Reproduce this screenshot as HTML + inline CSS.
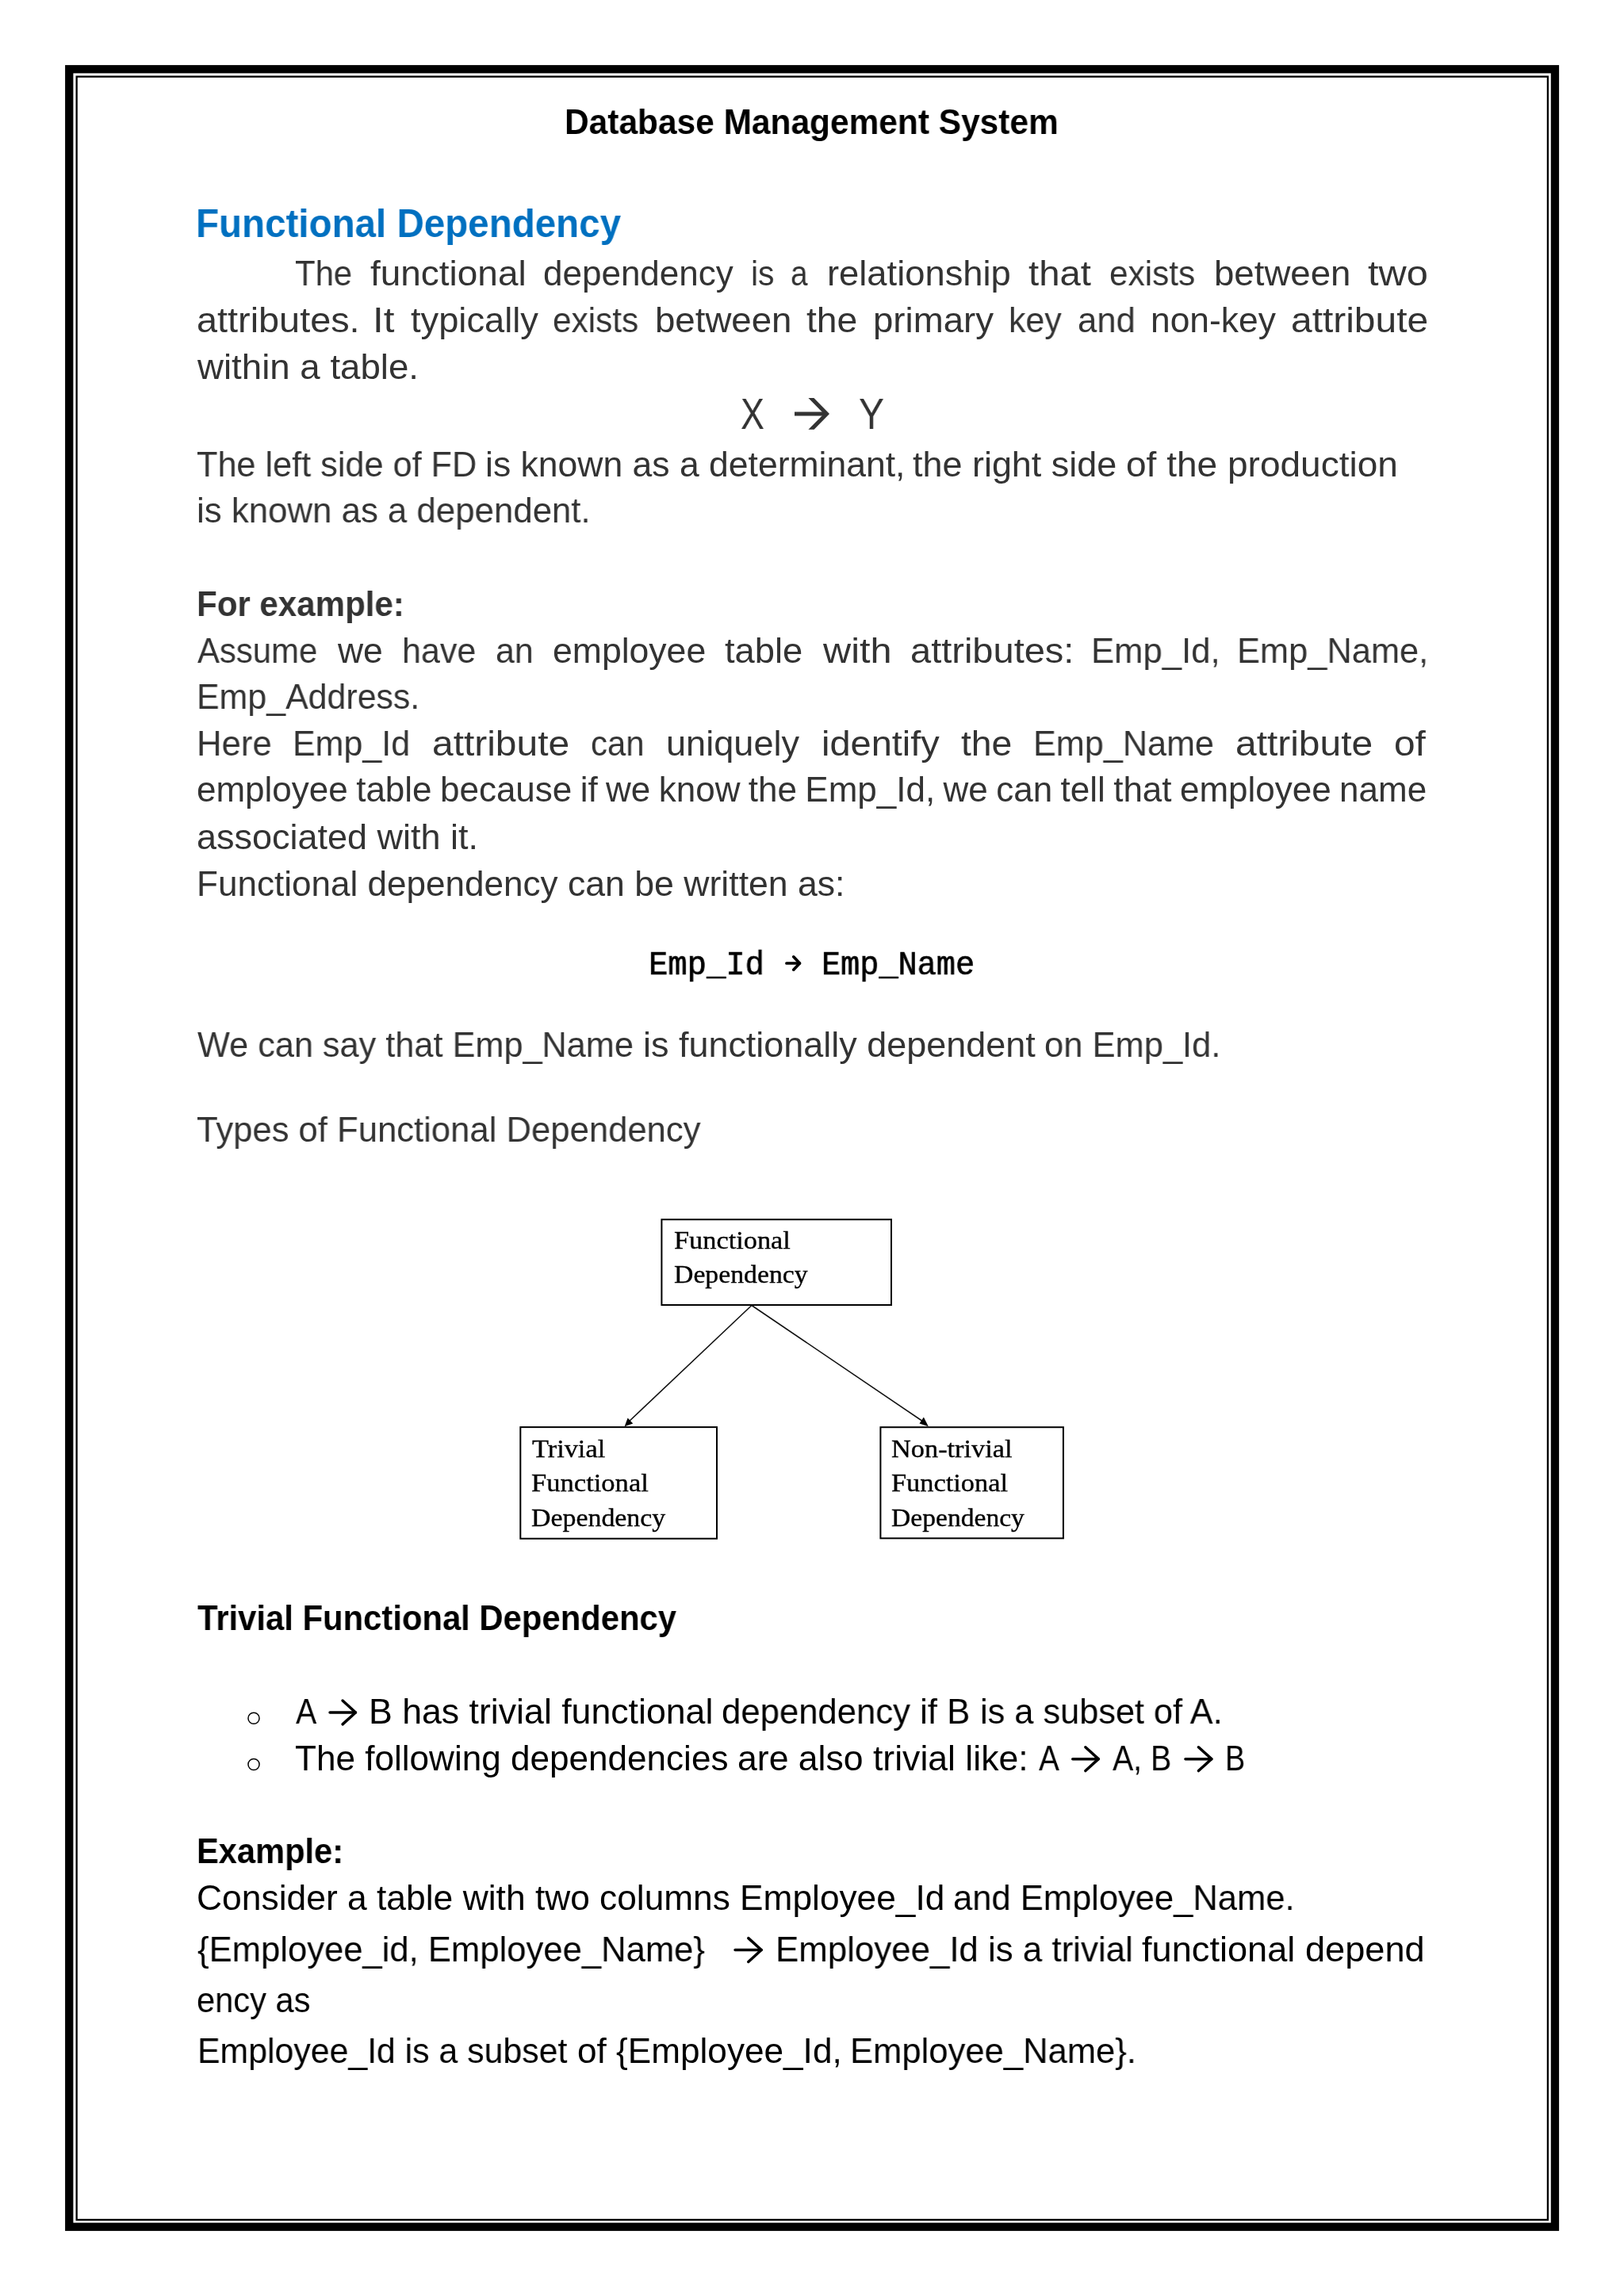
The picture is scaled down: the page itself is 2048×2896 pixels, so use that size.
<!DOCTYPE html>
<html><head><meta charset="utf-8"><style>
html,body{margin:0;padding:0;background:#fff;}
body{width:2048px;height:2896px;position:relative;overflow:hidden;}
.s{position:absolute;white-space:pre;transform-origin:0 0;margin:0;padding:0;will-change:transform;}
.j{position:absolute;display:flex;justify-content:space-between;white-space:pre;transform-origin:0 0;will-change:transform;}
.j span{display:block;}
.fr{position:absolute;box-sizing:border-box;}
</style></head><body>
<svg class="fr" style="left:0;top:0" width="2048" height="2896"><g fill="none" stroke="#000"><rect x="87.25" y="87.25" width="1873.7" height="2721.5" stroke-width="10.3"/><rect x="96.65" y="96.65" width="1855.25" height="2703.25" stroke-width="2.3"/></g></svg>
<div class="s" id="t1" style='left:712.00px;top:132.25px;font-family:"Liberation Sans", sans-serif;font-weight:700;font-size:44px;line-height:44px;color:#000000;transform:scaleX(0.9646);'>Database Management System</div>
<div class="s" id="h1" style='left:247.00px;top:257.17px;font-family:"Liberation Sans", sans-serif;font-weight:700;font-size:50px;line-height:50px;color:#0070c0;transform:scaleX(0.9505);'>Functional Dependency</div>
<div class="s" id="p1_w0" style='left:371.58px;top:322.75px;font-family:"Liberation Sans", sans-serif;font-weight:400;font-size:44px;line-height:44px;color:#333333;transform:scaleX(0.9510);'>The</div>
<div class="s" id="p1_w1" style='left:466.59px;top:322.75px;font-family:"Liberation Sans", sans-serif;font-weight:400;font-size:44px;line-height:44px;color:#333333;transform:scaleX(1.0441);'>functional</div>
<div class="s" id="p1_w2" style='left:685.20px;top:322.75px;font-family:"Liberation Sans", sans-serif;font-weight:400;font-size:44px;line-height:44px;color:#333333;transform:scaleX(0.9982);'>dependency</div>
<div class="s" id="p1_w3" style='left:946.65px;top:322.75px;font-family:"Liberation Sans", sans-serif;font-weight:400;font-size:44px;line-height:44px;color:#333333;transform:scaleX(0.9248);'>is</div>
<div class="s" id="p1_w4" style='left:997.08px;top:322.75px;font-family:"Liberation Sans", sans-serif;font-weight:400;font-size:44px;line-height:44px;color:#333333;transform:scaleX(0.8800);'>a</div>
<div class="s" id="p1_w5" style='left:1043.27px;top:322.75px;font-family:"Liberation Sans", sans-serif;font-weight:400;font-size:44px;line-height:44px;color:#333333;transform:scaleX(1.0301);'>relationship</div>
<div class="s" id="p1_w6" style='left:1297.07px;top:322.75px;font-family:"Liberation Sans", sans-serif;font-weight:400;font-size:44px;line-height:44px;color:#333333;transform:scaleX(1.0754);'>that</div>
<div class="s" id="p1_w7" style='left:1399.27px;top:322.75px;font-family:"Liberation Sans", sans-serif;font-weight:400;font-size:44px;line-height:44px;color:#333333;transform:scaleX(0.9614);'>exists</div>
<div class="s" id="p1_w8" style='left:1530.84px;top:322.75px;font-family:"Liberation Sans", sans-serif;font-weight:400;font-size:44px;line-height:44px;color:#333333;transform:scaleX(1.0369);'>between</div>
<div class="s" id="p1_w9" style='left:1724.66px;top:322.75px;font-family:"Liberation Sans", sans-serif;font-weight:400;font-size:44px;line-height:44px;color:#333333;transform:scaleX(1.1079);'>two</div>
<div class="s" id="p2_w0" style='left:248.14px;top:381.95px;font-family:"Liberation Sans", sans-serif;font-weight:400;font-size:44px;line-height:44px;color:#333333;transform:scaleX(1.0642);'>attributes.</div>
<div class="s" id="p2_w1" style='left:469.70px;top:381.95px;font-family:"Liberation Sans", sans-serif;font-weight:400;font-size:44px;line-height:44px;color:#333333;transform:scaleX(1.1200);'>It</div>
<div class="s" id="p2_w2" style='left:518.02px;top:381.95px;font-family:"Liberation Sans", sans-serif;font-weight:400;font-size:44px;line-height:44px;color:#333333;transform:scaleX(1.0284);'>typically</div>
<div class="s" id="p2_w3" style='left:696.68px;top:381.95px;font-family:"Liberation Sans", sans-serif;font-weight:400;font-size:44px;line-height:44px;color:#333333;transform:scaleX(0.9614);'>exists</div>
<div class="s" id="p2_w4" style='left:826.03px;top:381.95px;font-family:"Liberation Sans", sans-serif;font-weight:400;font-size:44px;line-height:44px;color:#333333;transform:scaleX(1.0369);'>between</div>
<div class="s" id="p2_w5" style='left:1016.64px;top:381.95px;font-family:"Liberation Sans", sans-serif;font-weight:400;font-size:44px;line-height:44px;color:#333333;transform:scaleX(1.0521);'>the</div>
<div class="s" id="p2_w6" style='left:1100.61px;top:381.95px;font-family:"Liberation Sans", sans-serif;font-weight:400;font-size:44px;line-height:44px;color:#333333;transform:scaleX(1.0364);'>primary</div>
<div class="s" id="p2_w7" style='left:1271.89px;top:381.95px;font-family:"Liberation Sans", sans-serif;font-weight:400;font-size:44px;line-height:44px;color:#333333;transform:scaleX(0.9735);'>key</div>
<div class="s" id="p2_w8" style='left:1358.58px;top:381.95px;font-family:"Liberation Sans", sans-serif;font-weight:400;font-size:44px;line-height:44px;color:#333333;transform:scaleX(0.9915);'>and</div>
<div class="s" id="p2_w9" style='left:1450.87px;top:381.95px;font-family:"Liberation Sans", sans-serif;font-weight:400;font-size:44px;line-height:44px;color:#333333;transform:scaleX(1.0083);'>non-key</div>
<div class="s" id="p2_w10" style='left:1627.84px;top:381.95px;font-family:"Liberation Sans", sans-serif;font-weight:400;font-size:44px;line-height:44px;color:#333333;transform:scaleX(1.0887);'>attribute</div>
<div class="s" id="p3" style='left:248.80px;top:441.05px;font-family:"Liberation Sans", sans-serif;font-weight:400;font-size:44px;line-height:44px;color:#333333;transform:scaleX(1.0370);'>within a table.</div>
<div class="s" id="xx" style='left:934.00px;top:495.23px;font-family:"Liberation Sans", sans-serif;font-weight:400;font-size:55px;line-height:55px;color:#333333;transform:scaleX(0.8138);'>X</div>
<div class="s" id="yy" style='left:1083.00px;top:495.23px;font-family:"Liberation Sans", sans-serif;font-weight:400;font-size:55px;line-height:55px;color:#333333;transform:scaleX(0.8719);'>Y</div>
<div class="s" id="p4_c0" style='left:247.80px;top:563.55px;font-family:"Liberation Sans", sans-serif;font-weight:400;font-size:44px;line-height:44px;color:#333333;transform:scaleX(0.9824);'>The left side of FD</div>
<div class="s" id="p4_c1" style='left:612.23px;top:563.55px;font-family:"Liberation Sans", sans-serif;font-weight:400;font-size:44px;line-height:44px;color:#333333;transform:scaleX(1.0115);'>is known as a determinant,</div>
<div class="s" id="p4_c2" style='left:1150.86px;top:563.55px;font-family:"Liberation Sans", sans-serif;font-weight:400;font-size:44px;line-height:44px;color:#333333;transform:scaleX(1.0211);'>the right side</div>
<div class="s" id="p4_c3" style='left:1420.39px;top:563.55px;font-family:"Liberation Sans", sans-serif;font-weight:400;font-size:44px;line-height:44px;color:#333333;transform:scaleX(1.0462);'>of the production</div>
<div class="s" id="p5" style='left:248.20px;top:622.15px;font-family:"Liberation Sans", sans-serif;font-weight:400;font-size:44px;line-height:44px;color:#333333;transform:scaleX(0.9952);'>is known as a dependent.</div>
<div class="s" id="fe" style='left:247.60px;top:739.65px;font-family:"Liberation Sans", sans-serif;font-weight:700;font-size:44px;line-height:44px;color:#333333;transform:scaleX(0.9559);'>For example:</div>
<div class="s" id="a1_w0" style='left:249.22px;top:798.55px;font-family:"Liberation Sans", sans-serif;font-weight:400;font-size:44px;line-height:44px;color:#333333;transform:scaleX(0.9517);'>Assume</div>
<div class="s" id="a1_w1" style='left:425.76px;top:798.55px;font-family:"Liberation Sans", sans-serif;font-weight:400;font-size:44px;line-height:44px;color:#333333;transform:scaleX(1.0102);'>we</div>
<div class="s" id="a1_w2" style='left:507.29px;top:798.55px;font-family:"Liberation Sans", sans-serif;font-weight:400;font-size:44px;line-height:44px;color:#333333;transform:scaleX(0.9770);'>have</div>
<div class="s" id="a1_w3" style='left:625.14px;top:798.55px;font-family:"Liberation Sans", sans-serif;font-weight:400;font-size:44px;line-height:44px;color:#333333;transform:scaleX(0.9733);'>an</div>
<div class="s" id="a1_w4" style='left:697.19px;top:798.55px;font-family:"Liberation Sans", sans-serif;font-weight:400;font-size:44px;line-height:44px;color:#333333;transform:scaleX(1.0125);'>employee</div>
<div class="s" id="a1_w5" style='left:913.78px;top:798.55px;font-family:"Liberation Sans", sans-serif;font-weight:400;font-size:44px;line-height:44px;color:#333333;transform:scaleX(1.0301);'>table</div>
<div class="s" id="a1_w6" style='left:1038.09px;top:798.55px;font-family:"Liberation Sans", sans-serif;font-weight:400;font-size:44px;line-height:44px;color:#333333;transform:scaleX(1.1063);'>with</div>
<div class="s" id="a1_w7" style='left:1147.94px;top:798.55px;font-family:"Liberation Sans", sans-serif;font-weight:400;font-size:44px;line-height:44px;color:#333333;transform:scaleX(1.0682);'>attributes:</div>
<div class="s" id="a1_w8" style='left:1375.91px;top:798.55px;font-family:"Liberation Sans", sans-serif;font-weight:400;font-size:44px;line-height:44px;color:#333333;transform:scaleX(0.9917);'>Emp_Id,</div>
<div class="s" id="a1_w9" style='left:1559.56px;top:798.55px;font-family:"Liberation Sans", sans-serif;font-weight:400;font-size:44px;line-height:44px;color:#333333;transform:scaleX(0.9864);'>Emp_Name,</div>
<div class="s" id="a2" style='left:247.90px;top:857.35px;font-family:"Liberation Sans", sans-serif;font-weight:400;font-size:44px;line-height:44px;color:#333333;transform:scaleX(0.9747);'>Emp_Address.</div>
<div class="s" id="a3_w0" style='left:248.02px;top:915.75px;font-family:"Liberation Sans", sans-serif;font-weight:400;font-size:44px;line-height:44px;color:#333333;transform:scaleX(0.9926);'>Here</div>
<div class="s" id="a3_w1" style='left:369.19px;top:915.75px;font-family:"Liberation Sans", sans-serif;font-weight:400;font-size:44px;line-height:44px;color:#333333;transform:scaleX(0.9762);'>Emp_Id</div>
<div class="s" id="a3_w2" style='left:544.62px;top:915.75px;font-family:"Liberation Sans", sans-serif;font-weight:400;font-size:44px;line-height:44px;color:#333333;transform:scaleX(1.0887);'>attribute</div>
<div class="s" id="a3_w3" style='left:745.41px;top:915.75px;font-family:"Liberation Sans", sans-serif;font-weight:400;font-size:44px;line-height:44px;color:#333333;transform:scaleX(0.9516);'>can</div>
<div class="s" id="a3_w4" style='left:840.27px;top:915.75px;font-family:"Liberation Sans", sans-serif;font-weight:400;font-size:44px;line-height:44px;color:#333333;transform:scaleX(1.0257);'>uniquely</div>
<div class="s" id="a3_w5" style='left:1035.83px;top:915.75px;font-family:"Liberation Sans", sans-serif;font-weight:400;font-size:44px;line-height:44px;color:#333333;transform:scaleX(1.0672);'>identify</div>
<div class="s" id="a3_w6" style='left:1211.60px;top:915.75px;font-family:"Liberation Sans", sans-serif;font-weight:400;font-size:44px;line-height:44px;color:#333333;transform:scaleX(1.0521);'>the</div>
<div class="s" id="a3_w7" style='left:1303.49px;top:915.75px;font-family:"Liberation Sans", sans-serif;font-weight:400;font-size:44px;line-height:44px;color:#333333;transform:scaleX(0.9813);'>Emp_Name</div>
<div class="s" id="a3_w8" style='left:1558.29px;top:915.75px;font-family:"Liberation Sans", sans-serif;font-weight:400;font-size:44px;line-height:44px;color:#333333;transform:scaleX(1.0887);'>attribute</div>
<div class="s" id="a3_w9" style='left:1758.40px;top:915.75px;font-family:"Liberation Sans", sans-serif;font-weight:400;font-size:44px;line-height:44px;color:#333333;transform:scaleX(1.0861);'>of</div>
<div class="j" id="a4" style='left:248.00px;top:974.35px;font-family:"Liberation Sans", sans-serif;font-weight:400;font-size:44px;line-height:44px;color:#333333;transform:scaleX(1.0000); width:1551.30px;'><span>employee</span><span>table</span><span>because</span><span>if</span><span>we</span><span>know</span><span>the</span><span>Emp_Id,</span><span>we</span><span>can</span><span>tell</span><span>that</span><span>employee</span><span>name</span></div>
<div class="s" id="a5" style='left:247.60px;top:1034.05px;font-family:"Liberation Sans", sans-serif;font-weight:400;font-size:44px;line-height:44px;color:#333333;transform:scaleX(1.0225);'>associated with it.</div>
<div class="s" id="a6_c0" style='left:248.30px;top:1092.75px;font-family:"Liberation Sans", sans-serif;font-weight:400;font-size:44px;line-height:44px;color:#333333;transform:scaleX(1.0013);'>Functional dependency</div>
<div class="s" id="a6_c1" style='left:715.60px;top:1092.75px;font-family:"Liberation Sans", sans-serif;font-weight:400;font-size:44px;line-height:44px;color:#333333;transform:scaleX(1.0135);'>can be written as:</div>
<div class="s" id="m1" style='left:818.00px;top:1195.56px;font-family:"Liberation Mono", monospace;font-weight:400;font-size:43px;line-height:43px;color:#000000;transform:scaleX(0.9427);-webkit-text-stroke:0.7px #000000;'>Emp_Id</div>
<div class="s" id="m2" style='left:1036.00px;top:1195.56px;font-family:"Liberation Mono", monospace;font-weight:400;font-size:43px;line-height:43px;color:#000000;transform:scaleX(0.9353);-webkit-text-stroke:0.7px #000000;'>Emp_Name</div>
<div class="s" id="a7_c0" style='left:249.20px;top:1295.85px;font-family:"Liberation Sans", sans-serif;font-weight:400;font-size:44px;line-height:44px;color:#333333;transform:scaleX(0.9834);'>We can say that Emp_Name</div>
<div class="s" id="a7_c1" style='left:810.92px;top:1295.85px;font-family:"Liberation Sans", sans-serif;font-weight:400;font-size:44px;line-height:44px;color:#333333;transform:scaleX(1.0212);'>is functionally dependent</div>
<div class="s" id="a7_c2" style='left:1317.19px;top:1295.85px;font-family:"Liberation Sans", sans-serif;font-weight:400;font-size:44px;line-height:44px;color:#333333;transform:scaleX(0.9883);'>on Emp_Id.</div>
<div class="s" id="a8" style='left:247.60px;top:1402.85px;font-family:"Liberation Sans", sans-serif;font-weight:400;font-size:44px;line-height:44px;color:#333333;transform:scaleX(0.9917);'>Types of Functional Dependency</div>
<div class="s" id="d1" style='left:850.40px;top:1548.00px;font-family:"Liberation Serif", serif;font-weight:400;font-size:32px;line-height:32px;color:#000000;transform:scaleX(1.0728);-webkit-text-stroke:0.35px #000000;'>Functional</div>
<div class="s" id="d2" style='left:850.40px;top:1590.70px;font-family:"Liberation Serif", serif;font-weight:400;font-size:32px;line-height:32px;color:#000000;transform:scaleX(1.0548);-webkit-text-stroke:0.35px #000000;'>Dependency</div>
<div class="s" id="d3" style='left:671.40px;top:1811.00px;font-family:"Liberation Serif", serif;font-weight:400;font-size:32px;line-height:32px;color:#000000;transform:scaleX(1.0723);-webkit-text-stroke:0.35px #000000;'>Trivial</div>
<div class="s" id="d4" style='left:670.00px;top:1854.40px;font-family:"Liberation Serif", serif;font-weight:400;font-size:32px;line-height:32px;color:#000000;transform:scaleX(1.0802);-webkit-text-stroke:0.35px #000000;'>Functional</div>
<div class="s" id="d5" style='left:670.00px;top:1898.40px;font-family:"Liberation Serif", serif;font-weight:400;font-size:32px;line-height:32px;color:#000000;transform:scaleX(1.0585);-webkit-text-stroke:0.35px #000000;'>Dependency</div>
<div class="s" id="d6" style='left:1123.90px;top:1811.00px;font-family:"Liberation Serif", serif;font-weight:400;font-size:32px;line-height:32px;color:#000000;transform:scaleX(1.0732);-webkit-text-stroke:0.35px #000000;'>Non-trivial</div>
<div class="s" id="d7" style='left:1124.20px;top:1854.40px;font-family:"Liberation Serif", serif;font-weight:400;font-size:32px;line-height:32px;color:#000000;transform:scaleX(1.0744);-webkit-text-stroke:0.35px #000000;'>Functional</div>
<div class="s" id="d8" style='left:1124.20px;top:1898.40px;font-family:"Liberation Serif", serif;font-weight:400;font-size:32px;line-height:32px;color:#000000;transform:scaleX(1.0498);-webkit-text-stroke:0.35px #000000;'>Dependency</div>
<div class="s" id="tf" style='left:248.80px;top:2019.45px;font-family:"Liberation Sans", sans-serif;font-weight:700;font-size:44px;line-height:44px;color:#000000;transform:scaleX(0.9501);'>Trivial Functional Dependency</div>
<div class="s" id="b1a" style='left:372.50px;top:2137.15px;font-family:"Liberation Sans", sans-serif;font-weight:400;font-size:44px;line-height:44px;color:#000000;transform:scaleX(0.8930);'>A</div>
<div class="s" id="b1b_c0" style='left:465.00px;top:2137.15px;font-family:"Liberation Sans", sans-serif;font-weight:400;font-size:44px;line-height:44px;color:#000000;transform:scaleX(1.0149);'>B has trivial functional</div>
<div class="s" id="b1b_c1" style='left:910.43px;top:2137.15px;font-family:"Liberation Sans", sans-serif;font-weight:400;font-size:44px;line-height:44px;color:#000000;transform:scaleX(0.9925);'>dependency if B</div>
<div class="s" id="b1b_c2" style='left:1235.82px;top:2137.15px;font-family:"Liberation Sans", sans-serif;font-weight:400;font-size:44px;line-height:44px;color:#000000;transform:scaleX(0.9840);'>is a subset of A.</div>
<div class="s" id="b2a_c0" style='left:371.80px;top:2195.65px;font-family:"Liberation Sans", sans-serif;font-weight:400;font-size:44px;line-height:44px;color:#000000;transform:scaleX(1.0018);'>The following dependencies</div>
<div class="s" id="b2a_c1" style='left:930.25px;top:2195.65px;font-family:"Liberation Sans", sans-serif;font-weight:400;font-size:44px;line-height:44px;color:#000000;transform:scaleX(1.0131);'>are also trivial like:</div>
<div class="s" id="b2d" style='left:1309.80px;top:2195.65px;font-family:"Liberation Sans", sans-serif;font-weight:400;font-size:44px;line-height:44px;color:#000000;transform:scaleX(0.8817);'>A</div>
<div class="s" id="b2b" style='left:1403.00px;top:2195.65px;font-family:"Liberation Sans", sans-serif;font-weight:400;font-size:44px;line-height:44px;color:#000000;transform:scaleX(0.8933);'>A, B</div>
<div class="s" id="b2c" style='left:1545.20px;top:2195.65px;font-family:"Liberation Sans", sans-serif;font-weight:400;font-size:44px;line-height:44px;color:#000000;transform:scaleX(0.8575);'>B</div>
<div class="s" id="ex" style='left:248.00px;top:2313.35px;font-family:"Liberation Sans", sans-serif;font-weight:700;font-size:44px;line-height:44px;color:#000000;transform:scaleX(0.9459);'>Example:</div>
<div class="s" id="c1_c0" style='left:248.40px;top:2371.85px;font-family:"Liberation Sans", sans-serif;font-weight:400;font-size:44px;line-height:44px;color:#000000;transform:scaleX(1.0090);'>Consider a table with</div>
<div class="s" id="c1_c1" style='left:674.53px;top:2371.85px;font-family:"Liberation Sans", sans-serif;font-weight:400;font-size:44px;line-height:44px;color:#000000;transform:scaleX(1.0053);'>two columns Employee_Id</div>
<div class="s" id="c1_c2" style='left:1202.00px;top:2371.85px;font-family:"Liberation Sans", sans-serif;font-weight:400;font-size:44px;line-height:44px;color:#000000;transform:scaleX(0.9889);'>and Employee_Name.</div>
<div class="s" id="c2a" style='left:248.60px;top:2436.65px;font-family:"Liberation Sans", sans-serif;font-weight:400;font-size:44px;line-height:44px;color:#000000;transform:scaleX(0.9910);'>{Employee_id, Employee_Name}</div>
<div class="s" id="c2b_c0" style='left:977.80px;top:2436.65px;font-family:"Liberation Sans", sans-serif;font-weight:400;font-size:44px;line-height:44px;color:#000000;transform:scaleX(0.9962);'>Employee_Id is a trivial</div>
<div class="s" id="c2b_c1" style='left:1440.33px;top:2436.65px;font-family:"Liberation Sans", sans-serif;font-weight:400;font-size:44px;line-height:44px;color:#000000;transform:scaleX(1.0268);'>functional depend</div>
<div class="s" id="c3" style='left:247.60px;top:2501.25px;font-family:"Liberation Sans", sans-serif;font-weight:400;font-size:44px;line-height:44px;color:#000000;transform:scaleX(0.9450);'>ency as</div>
<div class="s" id="c4_c0" style='left:248.90px;top:2565.45px;font-family:"Liberation Sans", sans-serif;font-weight:400;font-size:44px;line-height:44px;color:#000000;transform:scaleX(0.9726);'>Employee_Id is a subset</div>
<div class="s" id="c4_c1" style='left:728.17px;top:2565.45px;font-family:"Liberation Sans", sans-serif;font-weight:400;font-size:44px;line-height:44px;color:#000000;transform:scaleX(1.0031);'>of {Employee_Id,</div>
<div class="s" id="c4_c2" style='left:1072.02px;top:2565.45px;font-family:"Liberation Sans", sans-serif;font-weight:400;font-size:44px;line-height:44px;color:#000000;transform:scaleX(0.9903);'>Employee_Name}.</div>
<svg style="position:absolute;left:0;top:0" width="2048" height="2896">
<g id="ar0" stroke="#000000" stroke-width="3.50" fill="none" stroke-linecap="round" stroke-linejoin="round"><path d="M416.05 2159.95H448.45"/><path d="M432.06 2145.05L448.45 2159.95L432.06 2174.85"/></g>
<g id="ar1" stroke="#000000" stroke-width="3.50" fill="none" stroke-linecap="round" stroke-linejoin="round"><path d="M1352.75 2218.65H1385.25"/><path d="M1368.86 2203.75L1385.25 2218.65L1368.86 2233.55"/></g>
<g id="ar2" stroke="#000000" stroke-width="3.50" fill="none" stroke-linecap="round" stroke-linejoin="round"><path d="M1494.95 2218.65H1527.85"/><path d="M1511.46 2203.75L1527.85 2218.65L1511.46 2233.55"/></g>
<g id="ar3" stroke="#000000" stroke-width="3.50" fill="none" stroke-linecap="round" stroke-linejoin="round"><path d="M927.05 2459.55H960.15"/><path d="M943.76 2444.65L960.15 2459.55L943.76 2474.45"/></g>
<g id="ar4" stroke="#000000" stroke-width="3.70" fill="none" stroke-linecap="round" stroke-linejoin="round"><path d="M991.95 1215.00H1008.45"/><path d="M1000.71 1206.85L1008.45 1215.00L1000.71 1223.15"/></g>
<g fill="#333333"><path d="M1002 519.4H1041V524.6H1002Z"/><path d="M1019.4 502L1026.4 502L1046 522L1026.6 541.7L1019.4 541.7L1039 522Z"/></g>
<circle cx="320" cy="2167.2" r="7.05" stroke="#000" stroke-width="1.5" fill="none"/>
<circle cx="320" cy="2225.5" r="7.05" stroke="#000" stroke-width="1.5" fill="none"/>
<g stroke="#000" stroke-width="2" fill="none"><rect x="834.4" y="1538.2" width="289.6" height="107.8"/><rect x="656.3" y="1800.1" width="247.7" height="140.6"/><rect x="1110.4" y="1800.2" width="230.5" height="140.1"/></g>
<g stroke="#111" stroke-width="1.6" fill="none"><path d="M947.9 1646.5L791 1795"/><path d="M947.9 1646.5L1167 1795"/></g>
<g fill="#000"><path d="M787.6 1799.3L791.6 1788.5L798.2 1795.4Z"/><path d="M1170.8 1799.3L1159.5 1795.6L1164.9 1787.5Z"/></g>
</svg>
</body></html>
